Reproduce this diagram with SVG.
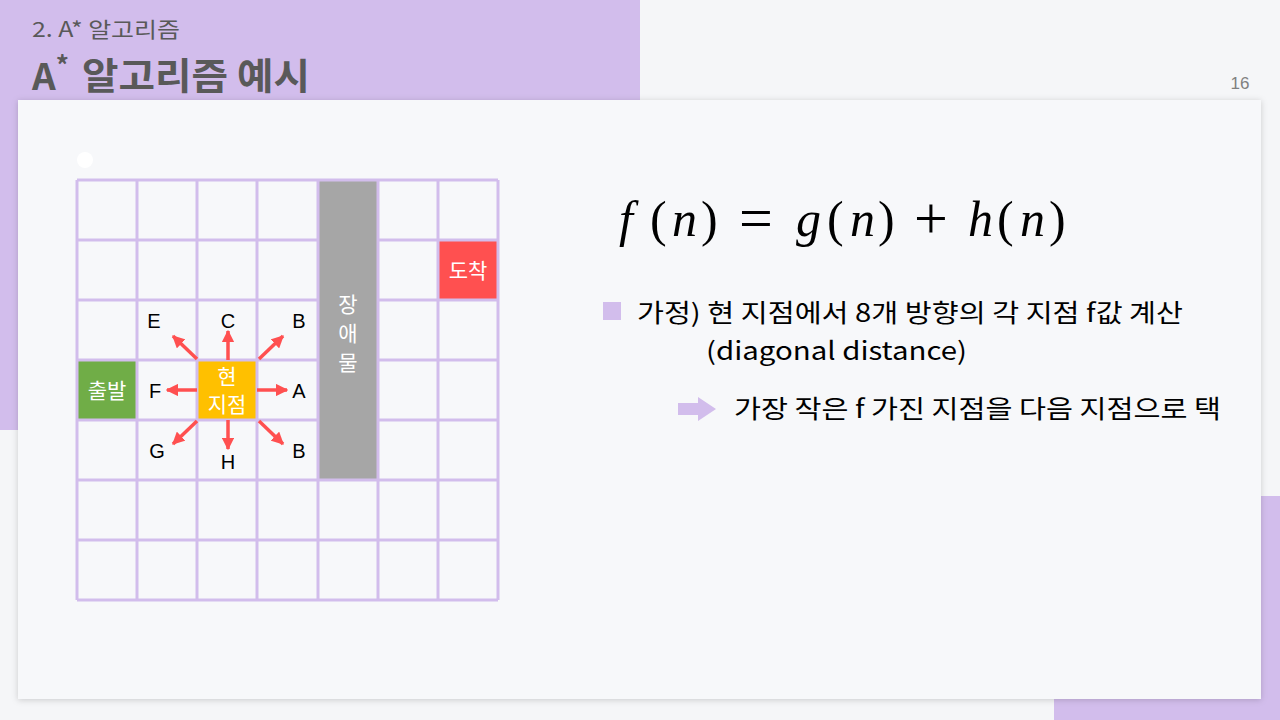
<svg xmlns="http://www.w3.org/2000/svg" width="1280" height="720" viewBox="0 0 1280 720">
<defs>
<filter id="sh" x="-5%" y="-5%" width="110%" height="110%"><feDropShadow dx="0" dy="1" stdDeviation="3" flood-color="#000" flood-opacity="0.18"/></filter>
<marker id="ah" viewBox="0 0 10 10" refX="9" refY="5" markerWidth="3.6" markerHeight="3.6" orient="auto"><path d="M0,0 L10,5 L0,10 z" fill="#ff5050"/></marker>
<style>
.grid{stroke:#d2bdec;stroke-width:3;fill:none}
.wt{fill:#fff;font-family:"Noto Sans CJK KR","Noto Sans",sans-serif;font-size:21px;text-anchor:middle}
.lb{fill:#000;font-family:"Liberation Sans",Arial,sans-serif;font-size:20px;text-anchor:middle}
.ar{stroke:#ff5050;stroke-width:3.5;marker-end:url(#ah)}
.tx{fill:#000;font-family:"Noto Sans CJK KR","Noto Sans",sans-serif;font-size:25px}
.m{font-family:"Liberation Serif","DejaVu Serif",serif;font-size:50px;fill:#000}
.i{font-style:italic}
.op{font-size:60px}
</style>
</defs>
<rect width="1280" height="720" fill="#f5f6f8"/>
<rect x="0" y="0" width="640" height="430" fill="#d2bdec"/>
<rect x="1054" y="496" width="226" height="224" fill="#d2bdec"/>
<rect x="18" y="100" width="1243" height="599" fill="#f7f8fa" filter="url(#sh)"/>
<g id="header">
<text x="32" y="37" font-family="'Noto Sans CJK KR',sans-serif" font-size="21" fill="#595959" textLength="148" lengthAdjust="spacingAndGlyphs">2. A* 알고리즘</text>
<text x="32" y="90" font-family="'Noto Sans CJK KR',sans-serif" font-size="37" font-weight="bold" fill="#595959">A<tspan dy="-15" font-size="26">*</tspan><tspan dy="15" x="82" textLength="228" lengthAdjust="spacingAndGlyphs">알고리즘 예시</tspan></text>
<text x="1240" y="89" font-family="'Liberation Sans',Arial,sans-serif" font-size="17" fill="#808080" text-anchor="middle">16</text>
</g>
<circle cx="85" cy="160" r="8" fill="#fff"/>
<g id="cells">
<rect x="318" y="180" width="60" height="300" fill="#a6a6a6"/>
<rect x="438" y="240" width="60" height="60" fill="#ff5050"/>
<rect x="77" y="360" width="60" height="60" fill="#70ad47"/>
<rect x="197" y="360" width="60" height="60" fill="#ffc000"/>
</g>
<g id="grid" class="grid">
<path d="M77,180H498M77,240H318M378,240H498M77,300H318M378,300H498M77,360H318M378,360H498M77,420H318M378,420H498M77,480H498M77,540H498M77,600H498"/>
<path d="M77,180V600M137,180V600M197,180V600M257,180V600M318,180V600M378,180V600M438,180V600M498,180V600"/>
</g>
<g id="obstacle"><text class="wt" x="348" y="312">장</text><text class="wt" x="348" y="341">애</text><text class="wt" x="348" y="370">물</text></g>
<g id="goal"><text class="wt" x="468" y="278">도착</text></g>
<g id="start"><text class="wt" x="107" y="398">출발</text></g>
<g id="current"><text class="wt" x="227" y="384">현</text><text class="wt" x="227" y="412">지점</text></g>
<g id="connectors">
<line class="ar" x1="228" y1="360" x2="228" y2="331"/>
<line class="ar" x1="228" y1="420" x2="228" y2="449"/>
<line class="ar" x1="257" y1="390" x2="287" y2="390"/>
<line class="ar" x1="197" y1="390" x2="167" y2="390"/>
<line class="ar" x1="259" y1="359" x2="283" y2="336"/>
<line class="ar" x1="197" y1="359" x2="173" y2="336"/>
<line class="ar" x1="197" y1="421" x2="173" y2="444"/>
<line class="ar" x1="259" y1="421" x2="283" y2="444"/>
</g>
<g id="labels">
<text class="lb" x="154" y="328">E</text>
<text class="lb" x="228" y="328">C</text>
<text class="lb" x="299" y="328">B</text>
<text class="lb" x="155" y="398">F</text>
<text class="lb" x="299" y="398">A</text>
<text class="lb" x="157" y="458">G</text>
<text class="lb" x="228" y="469">H</text>
<text class="lb" x="299" y="458">B</text>
</g>
<g id="formula" class="m">
<text y="236"><tspan class="i" x="619">f</tspan><tspan x="650">(</tspan><tspan class="i" x="672">n</tspan><tspan x="701">)</tspan><tspan class="op" x="739" dy="2">=</tspan><tspan class="i" x="796" dy="-2">g</tspan><tspan x="827">(</tspan><tspan class="i" x="850">n</tspan><tspan x="878">)</tspan><tspan class="op" x="914" dy="2">+</tspan><tspan class="i" x="968" dy="-2">h</tspan><tspan x="997">(</tspan><tspan class="i" x="1020">n</tspan><tspan x="1049">)</tspan></text>
</g>
<g id="bullets">
<rect x="603" y="302" width="18" height="18" fill="#d2bdec"/>
<text class="tx" x="637" y="322" textLength="546" lengthAdjust="spacingAndGlyphs">가정) 현 지점에서 8개 방향의 각 지점 f값 계산</text>
<text class="tx" x="706" y="360" textLength="261" lengthAdjust="spacingAndGlyphs">(diagonal distance)</text>
<path d="M678,403 H698 V397 L716,409 L698,421 V415 H678 z" fill="#d2bdec"/>
<text class="tx" x="734" y="418" textLength="487" lengthAdjust="spacingAndGlyphs">가장 작은 f 가진 지점을 다음 지점으로 택</text>
</g>
</svg>
